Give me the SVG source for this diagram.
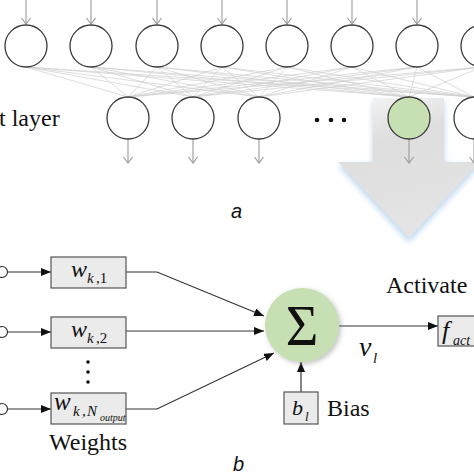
<svg xmlns="http://www.w3.org/2000/svg" width="474" height="474" viewBox="0 0 474 474">
<style>
.nn{fill:#fff;stroke:#3a3a3a;stroke-width:1.3}
.gr{fill:#c6dfb3}
.in{stroke:#9a9a9a;stroke-width:1.1;fill:none;marker-end:url(#chev)}
.cx{stroke:#cfcfcf;stroke-width:0.7;fill:none}
.ln{stroke:#333;stroke-width:1.2;fill:none}
.ar{marker-end:url(#tri)}
.box{fill:#ebebeb;stroke:#555;stroke-width:1.2}
.ser{font-family:"Liberation Serif","Times New Roman",serif;fill:#111}
.it{font-style:italic}
.sans{font-family:"Liberation Sans",Arial,sans-serif;font-style:italic;fill:#111}
</style>
<defs>
<marker id="chev" viewBox="0 0 6 9" refX="6" refY="4.5" markerWidth="6" markerHeight="9" markerUnits="userSpaceOnUse" orient="auto" overflow="visible">
<path d="M0,0 L6,4.5 L0,9" fill="none" stroke="#9a9a9a" stroke-width="1.1"/>
</marker>
<marker id="tri" viewBox="0 0 10 8" refX="10" refY="4" markerWidth="10" markerHeight="8" markerUnits="userSpaceOnUse" orient="auto">
<path d="M0,0 L10,4 L0,8 Z" fill="#111"/>
</marker>
<linearGradient id="bg" x1="0" y1="0" x2="0.25" y2="1">
<stop offset="0" stop-color="#f6f6f6"/>
<stop offset="0.35" stop-color="#dedede"/>
<stop offset="1" stop-color="#e4e4e4"/>
</linearGradient>
<filter id="glow" x="-20%" y="-20%" width="140%" height="140%">
<feGaussianBlur stdDeviation="3"/>
</filter>
<filter id="sh" x="-30%" y="-30%" width="160%" height="160%">
<feDropShadow dx="2" dy="2" stdDeviation="2.5" flood-color="#888" flood-opacity="0.5"/>
</filter>
</defs>

<g id="big-arrow">
<path d="M373,100 L444,100 L444,163 L480,163 L409,240 L338,163 L373,163 Z" fill="#b9d5ef" filter="url(#glow)" transform="translate(0,2)"/>
<path d="M373,98 L444,98 L444,162 L480,162 L409,238 L338,162 L373,162 Z" fill="url(#bg)"/>
</g>

<g id="connectors">
<g id="dense">
<path class="cx" d="M26,67 L128,97 M26,67 L193,97 M26,67 L259,97 M26,67 L409,97 M26,67 L474,97
M91,67 L128,97 M91,67 L193,97 M91,67 L259,97 M91,67 L409,97 M91,67 L474,97
M157,67 L128,97 M157,67 L193,97 M157,67 L259,97 M157,67 L409,97 M157,67 L474,97
M222,67 L128,97 M222,67 L193,97 M222,67 L259,97 M222,67 L409,97 M222,67 L474,97
M287,67 L128,97 M287,67 L193,97 M287,67 L259,97 M287,67 L409,97 M287,67 L474,97
M352,67 L128,97 M352,67 L193,97 M352,67 L259,97 M352,67 L409,97 M352,67 L474,97
M417,67 L128,97 M417,67 L193,97 M417,67 L259,97 M417,67 L409,97 M417,67 L474,97
M482,67 L128,97 M482,67 L193,97 M482,67 L259,97 M482,67 L409,97 M482,67 L474,97"/>
</g>
<g id="inputs-top">
<line class="in" x1="26" y1="0" x2="26" y2="24"/>
<line class="in" x1="91" y1="0" x2="91" y2="24"/>
<line class="in" x1="157" y1="0" x2="157" y2="24"/>
<line class="in" x1="222" y1="0" x2="222" y2="24"/>
<line class="in" x1="287" y1="0" x2="287" y2="24"/>
<line class="in" x1="352" y1="0" x2="352" y2="24"/>
<line class="in" x1="417" y1="0" x2="417" y2="24"/>
</g>
<g id="outputs-bottom">
<line class="in" x1="128" y1="139" x2="128" y2="163"/>
<line class="in" x1="193" y1="139" x2="193" y2="163"/>
<line class="in" x1="259" y1="139" x2="259" y2="163"/>
<line class="in" x1="409" y1="139" x2="409" y2="163"/>
<line class="in" x1="474" y1="139" x2="474" y2="163"/>
</g>
<g id="b-links">
<line class="ln ar" x1="8" y1="272" x2="51" y2="272"/>
<line class="ln ar" x1="8" y1="332" x2="51" y2="332"/>
<line class="ln ar" x1="8" y1="409" x2="51" y2="409"/>
<polyline class="ln ar" points="126,272 157,272 264,316"/>
<line class="ln ar" x1="126" y1="331" x2="264" y2="331"/>
<polyline class="ln ar" points="126,409 157,409 274,353"/>
<line class="ln ar" x1="301" y1="392" x2="301" y2="362"/>
<line class="ln ar" x1="339" y1="326" x2="438" y2="326"/>
</g>
</g>

<g id="top-layer">
<circle class="nn" cx="26" cy="46" r="21"/>
<circle class="nn" cx="91" cy="46" r="21"/>
<circle class="nn" cx="157" cy="46" r="21"/>
<circle class="nn" cx="222" cy="46" r="21"/>
<circle class="nn" cx="287" cy="46" r="21"/>
<circle class="nn" cx="352" cy="46" r="21"/>
<circle class="nn" cx="417" cy="46" r="21"/>
<circle class="nn" cx="482" cy="46" r="21"/>
</g>

<g id="output-layer">
<circle class="nn" cx="128" cy="118" r="21"/>
<circle class="nn" cx="193" cy="118" r="21"/>
<circle class="nn" cx="259" cy="118" r="21"/>
<circle cx="317" cy="120" r="2.3" fill="#111"/>
<circle cx="331" cy="120" r="2.3" fill="#111"/>
<circle cx="344" cy="120" r="2.3" fill="#111"/>
<circle class="nn gr" cx="409" cy="118" r="21"/>
<circle class="nn" cx="475" cy="118" r="21"/>
<text class="ser" x="-1" y="126" font-size="24">t layer</text>
</g>

<text class="sans" x="231" y="218" font-size="20">a</text>

<g id="inputs-b">
<circle cx="2" cy="272" r="5.5" fill="#fff" stroke="#333" stroke-width="1.2"/>
<circle cx="2" cy="332" r="5.5" fill="#fff" stroke="#333" stroke-width="1.2"/>
<circle cx="2" cy="409" r="5.5" fill="#fff" stroke="#333" stroke-width="1.2"/>
</g>

<g id="w1">
<rect class="box" x="51" y="257" width="75" height="31"/>
<text class="ser it" x="71" y="277" font-size="24">w</text>
<text class="ser" y="283" font-size="15"><tspan class="it" x="87">k</tspan><tspan x="96">,1</tspan></text>
</g>
<g id="w2">
<rect class="box" x="51" y="317" width="75" height="31"/>
<text class="ser it" x="71" y="337" font-size="24">w</text>
<text class="ser" y="343" font-size="15"><tspan class="it" x="87">k</tspan><tspan x="96">,2</tspan></text>
</g>
<g id="vdots">
<circle cx="88" cy="362" r="1.8" fill="#111"/>
<circle cx="88" cy="372" r="1.8" fill="#111"/>
<circle cx="88" cy="382" r="1.8" fill="#111"/>
</g>
<g id="wN">
<rect class="box" x="51" y="393" width="75" height="31"/>
<text class="ser it" x="54" y="410" font-size="25">w</text>
<text class="ser" y="416" font-size="15"><tspan class="it" x="73">k</tspan><tspan x="82">,</tspan><tspan class="it" x="87">N</tspan></text>
<text class="ser it" x="100" y="421" font-size="10">output</text>
</g>
<text class="ser" x="49" y="450" font-size="24">Weights</text>

<g id="sum">
<circle cx="302" cy="325" r="37" fill="#c6dfb3" filter="url(#sh)"/>
<text class="ser" x="302" y="345" font-size="56" text-anchor="middle">Σ</text>
</g>

<g id="vl">
<text class="ser it" x="359" y="356" font-size="28">v</text>
<text class="ser it" x="373" y="363" font-size="15">l</text>
</g>

<g id="bias">
<rect class="box" x="284" y="392" width="34" height="32"/>
<text class="ser it" x="292" y="415" font-size="22">b</text>
<text class="ser it" x="305" y="421" font-size="13">l</text>
<text class="ser" x="327" y="416" font-size="24">Bias</text>
</g>

<g id="fact">
<text class="ser" x="386" y="293" font-size="24">Activate</text>
<rect class="box" x="438" y="316" width="50" height="30"/>
<text class="ser it" x="442" y="339" font-size="26">f</text>
<text class="ser it" x="453" y="345" font-size="14">act</text>
</g>

<text class="sans" x="233" y="471" font-size="20">b</text>
</svg>
